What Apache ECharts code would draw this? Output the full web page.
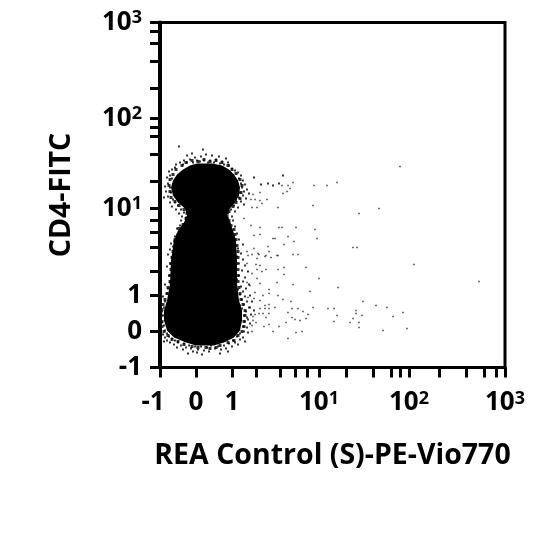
<!DOCTYPE html>
<html><head><meta charset="utf-8">
<style>html,body{margin:0;background:#fff}#c{width:540px;height:540px}</style>
<script src="https://cdn.jsdelivr.net/npm/echarts@6/dist/echarts.min.js"></script>
</head><body><div id="c"></div>
<script>
// All values are in display channels of the biexponential scale (36 channels = 1 linear unit near 0).
const tickChannels = [0,36,72,96,120,135,147,159,186,213,231,240,249,279,306,324,336,345];
const labelChannels = [0,36,72,159,249,345];
const labelTexts = ['-1','0','1','10|1','10|2','10|3'];
const xTitle = 'REA Control (S)-PE-Vio770';
const yTitle = 'CD4-FITC';

// Outline of the saturated part of the population
const denseCore = [[37,204],[52,204],[62,202],[69,198],[74,193],[78,187],[80,180],[79,172],[75,165],[70,159],[67,152],[70,145],[73,137],[76,127],[77,107],[77,84],[79,67],[82,57],[82,47],[80,37],[74,30],[64,25],[54,22],[36,22],[26,25],[14,30],[7,37],[4,47],[4,57],[7,67],[10,84],[11,107],[14,127],[18,137],[24,145],[27,152],[25,159],[18,165],[13,172],[11,180],[13,187],[17,193],[23,198],[30,202]];

// Events that break up the edge of the population
const edgeEvents = [[26,205],[32,207],[38,206],[44,208],[50,206],[56,207],[62,205],[22,202],[68,202],[16,198],[72,198],[13,193],[76,194],[10,188],[80,188],[9,182],[82,182],[10,176],[81,175],[11,170],[80,169],[15,166],[76,165],[19,162],[73,161],[24,158],[69,156],[27,154],[67,151],[26,149],[69,147],[23,143],[71,142],[19,139],[74,138],[18,133],[75,133],[15,128],[76,128],[15,122],[77,122],[13,116],[78,116],[12,110],[78,110],[11,104],[77,104],[11,98],[78,98],[10,92],[78,92],[10,86],[78,86],[8,80],[79,80],[7,74],[80,74],[5,68],[81,68],[3,63],[83,63],[2,58],[85,57],[1,52],[85,52],[2,46],[84,46],[2,41],[84,41],[4,36],[82,36],[8,32],[78,32],[12,28],[74,27],[18,26],[68,25],[24,23],[60,22],[32,21],[56,20],[38,20],[46,20],[50,19]];

// Stippled events around the population
const fringeEvents = [
[19,221],[43,218],[32,214],[35,210],[41,211],[27,212],[46,213],[52,212],[37,207],[24,207],[30,208],[44,207],[50,207],[56,208],[62,206],[66,209],[59,211],[20,205],[16,203],[23,203],[27,205],[33,205],[40,206],[48,205],[54,205],[60,204],[64,203],[69,202],[72,199],[75,197],[68,205],[12,198],[15,200],[9,196],[10,192],[7,190],[12,189],[8,184],[5,181],[10,180],[6,176],[11,175],[8,171],[4,170],[13,168],[10,165],[15,165],[12,161],[18,162],[16,158],[21,158],[19,154],[24,155],[22,151],[26,150],[21,147],[25,144],[20,142],[17,139],[22,137],[19,134],[15,131],[18,129],[14,126],[11,124],
[78,195],[81,192],[79,189],[83,187],[81,184],[85,183],[82,180],[87,178],[84,176],[80,175],[89,174],[83,172],[79,170],[86,169],[76,167],[81,166],[74,162],[78,160],[84,163],[71,158],[75,156],[68,154],[72,151],[68,149],[73,147],[70,144],[75,141],[72,137],[77,134],[74,131],[79,128],[75,125],[72,122],[78,119],[83,123],[75,115],
[13,121],[10,118],[15,116],[8,113],[12,110],[14,106],[10,104],[7,101],[12,98],[14,94],[9,92],[12,88],[10,85],[5,83],[8,79],[11,76],[7,74],[3,71],[9,69],[5,66],[8,63],[4,60],[2,56],[6,58],[3,52],[1,50],[5,48],[2,45],[4,42],[1,39],[5,37],[3,33],[7,34],[5,30],[9,31],[7,27],[12,29],[10,25],[15,27],[4,26],[14,23],[18,25],[21,22],[17,20],[24,24],[26,20],[29,22],[23,18],[31,19],[35,21],[33,16],[38,18],[41,21],[44,17],[47,20],[51,22],[49,16],[37,15],[55,19],[58,21],[61,18],[64,22],[66,19],[69,24],[72,21],[75,25],[78,23],[73,27],[80,28],[77,31],[83,30],[80,34],[84,36],[79,39],[83,41],[87,40],[80,44],[85,46],[81,49],[88,48],[84,52],[80,55],[86,56],[82,59],[89,60],[84,63],[80,62],[87,66],[82,68],[78,66],[85,71],[80,73],[76,71],[83,76],[78,78],[74,76],[86,79],[81,81],[76,83],[89,83],[83,86],[77,88],[74,86],[85,90],[79,92],[75,94],[88,96],[82,97],[76,99],[74,102],[85,102],[79,104],[83,108],[75,107],[77,111],[81,114],
[90,72],[92,66],[90,60],[94,57],[91,53],[87,50],[90,44],[88,35],[85,26],[68,16],[60,14],[42,13],[28,14],
[94,190],[123,192],[101,183],[108,184],[113,182],[119,184]
];

// Sparse events to the right of the population
const sparseEvents = [
[122,182],[128,182],[133,185],[130,179],[127,176],[123,174],[154,182],[167,182],[177,185],[100,175],[93,173],[91,168],[95,168],[100,167],[107,168],[102,164],[92,160],[97,160],[118,160],[153,162],[199,154],[84,149],[91,142],[100,140],[119,140],[122,140],[136,140],[155,138],[100,133],[94,132],[113,129],[115,129],[128,131],[157,129],[134,126],[124,123],[193,120],[197,120],[108,121],[94,119],[109,116],[87,116],[98,114],[105,111],[111,110],[117,112],[118,112],[133,113],[138,113],[106,112],[99,113],[92,113],[88,112],[97,109],[87,104],[96,103],[100,102],[124,100],[146,100],[106,98],[102,96],[118,98],[124,93],[159,89],[97,98],[92,94],[97,89],[117,85],[133,83],[178,80],[100,84],[87,85],[90,82],[150,76],[95,75],[109,78],[103,72],[109,74],[118,72],[123,68],[131,66],[203,66],[94,69],[88,70],[100,67],[105,62],[109,63],[115,60],[153,60],[132,59],[138,59],[143,56],[168,59],[174,59],[196,57],[128,55],[148,53],[100,59],[105,59],[109,59],[103,54],[99,54],[95,53],[109,54],[93,51],[132,50],[135,48],[140,47],[146,49],[177,52],[196,54],[202,52],[193,49],[190,45],[174,46],[199,45],[126,45],[106,50],[96,45],[93,47],[92,42],[109,43],[104,41],[119,41],[199,40],[113,36],[142,36],[136,35],[92,36],[128,29],[240,201],[219,159],[254,103],[319,86],[216,62],[227,60],[243,55],[233,51],[223,37],[247,39]
];

const font = '"Open Sans"';
const rich = {
  b:{fontFamily:font,fontWeight:700,fontSize:26,color:'#000'},
  n:{fontFamily:font,fontWeight:700,fontSize:26,color:'#000',padding:[0,14,0,0]},
  s:{fontFamily:font,fontWeight:700,fontSize:18,color:'#000',verticalAlign:'top',lineHeight:27,padding:[0,0,12,0]}
};
function tickLabel(v){
  const t = labelTexts[labelChannels.indexOf(v)];
  if(t===undefined) return '';
  const p = t.split('|');
  return p[1] ? '{b|'+p[0]+'}{s|'+p[1]+'}' : '{b|'+p[0]+'}';
}
function xTickLabel(v){
  return v===labelChannels[0] ? '{n|'+labelTexts[0]+'}' : tickLabel(v);
}
function axis(name,gap,width,margin,fmt){
  return {
    type:'value',min:0,max:345,name:name,nameLocation:'center',nameGap:gap,
    nameTextStyle:{fontFamily:font,fontWeight:700,fontSize:28.5,color:'#000'},
    splitLine:{show:false},
    axisLine:{show:true,onZero:false,lineStyle:{color:'#000',width:width}},
    axisTick:{show:true,length:10,customValues:tickChannels,lineStyle:{color:'#000',width:3}},
    axisLabel:{show:true,customValues:labelChannels,formatter:fmt,rich:rich,hideOverlap:false,margin:margin,showMinLabel:true,showMaxLabel:true}
  };
}
const chart = echarts.init(document.getElementById('c'),null,{renderer:'canvas'});
chart.setOption({
  animation:false,backgroundColor:'#fff',
  grid:{left:160,top:22.5,width:345,height:345,show:true,borderColor:'#000',borderWidth:3,backgroundColor:'#fff'},
  xAxis:axis(xTitle,74,3,22,xTickLabel),
  yAxis:axis(yTitle,84,4,18,tickLabel),
  series:[
    {type:'custom',coordinateSystem:'cartesian2d',data:denseCore,silent:true,clip:true,
     renderItem:function(p,api){
       if(p.dataIndex!==0) return null;
       return {type:'polygon',shape:{points:denseCore.map(function(d){return api.coord(d);})},style:{fill:'#000'}};
     }},
    {type:'scatter',data:edgeEvents,symbol:'rect',symbolSize:3,itemStyle:{color:'#000'},silent:true},
    {type:'scatter',data:fringeEvents,symbol:'rect',symbolSize:2,itemStyle:{color:'#000'},silent:true},
    {type:'scatter',data:sparseEvents,symbol:'rect',symbolSize:1.6,itemStyle:{color:'#222'},silent:true}
  ]
});
</script></body></html>
